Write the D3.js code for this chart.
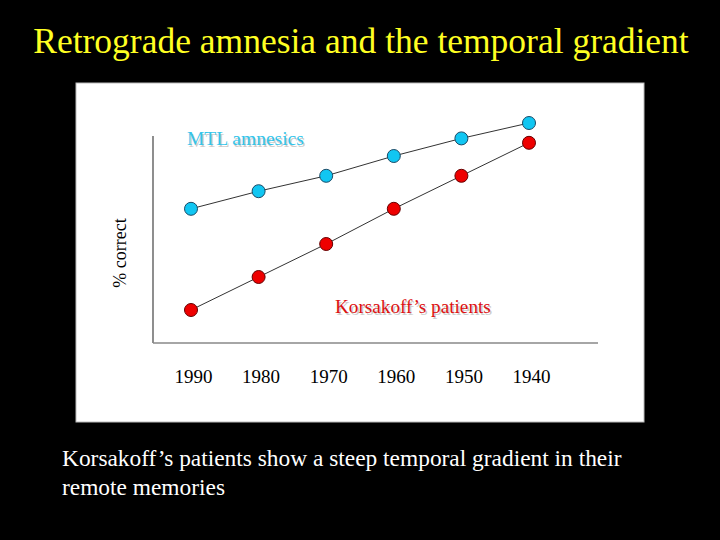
<!DOCTYPE html>
<html>
<head>
<meta charset="utf-8">
<script src="https://cdn.jsdelivr.net/npm/d3@7"></script>
<style>
  html, body { margin: 0; padding: 0; background: #000; }
  svg { display: block; }
</style>
</head>
<body>
<svg id="chart" width="720" height="540"></svg>
<script>
// ---- data ----
const decades = ["1990", "1980", "1970", "1960", "1950", "1940"];
const mtlValues = [61, 69, 76, 85, 93, 100];
const korsakoffValues = [15, 30, 45, 61, 76, 91];
const titleText = "Retrograde amnesia and the temporal gradient";
const captionLines = ["Korsakoff\u2019s patients show a steep temporal gradient in their", "remote memories"];
const yLabel = "% correct";
const mtlLabel = "MTL amnesics";
const korsLabel = "Korsakoff\u2019s patients";

const SERIF = "'Liberation Serif', 'Times New Roman', Times, 'DejaVu Serif', serif";

const svg = d3.select("#chart");

// background
svg.append("rect").attr("width", 720).attr("height", 540).attr("fill", "#000");

// title
svg.append("text")
  .attr("x", 361).attr("y", 52.5)
  .attr("text-anchor", "middle")
  .style("font-family", SERIF)
  .attr("fill", "#ffff22")
  .attr("font-size", 35.5)
  .text(titleText);

// white panel
svg.append("rect")
  .attr("x", 76).attr("y", 83).attr("width", 568).attr("height", 339)
  .attr("fill", "#ffffff").attr("stroke", "#bbbbbb").attr("stroke-width", 1);

// scales
const x = d3.scalePoint().domain(decades).range([191, 529]);
const y = d3.scaleLinear().domain([0, 100]).range([343, 123]);

// axes lines
svg.append("line").attr("x1", 153).attr("x2", 153).attr("y1", 136).attr("y2", 343)
  .attr("stroke", "#444").attr("stroke-width", 1.2);
svg.append("line").attr("x1", 153).attr("x2", 598).attr("y1", 343).attr("y2", 343)
  .attr("stroke", "#888").attr("stroke-width", 1.5);

// x tick labels via axis
const xAxis = d3.axisBottom(x).tickSize(0).tickPadding(0);
const gx = svg.append("g").attr("transform", "translate(2,381)").call(xAxis);
gx.select(".domain").remove();
gx.attr("font-family", null).attr("font-size", null);
gx.selectAll("text")
  .style("font-family", SERIF)
  .style("font-size", "19px")
  .attr("fill", "#000")
  .attr("dy", "0.1em");

// y label
svg.append("text")
  .attr("transform", "translate(126,253) rotate(-90)")
  .attr("text-anchor", "middle")
  .style("font-family", SERIF)
  .attr("font-size", 18)
  .attr("fill", "#000")
  .text(yLabel);

// lines
const line = d3.line().x((d, i) => x(decades[i])).y(d => y(d));
function drawSeries(values, fill, stroke) {
  svg.append("path").datum(values)
    .attr("d", line).attr("fill", "none")
    .attr("stroke", "#333").attr("stroke-width", 1);
  svg.selectAll(null).data(values).enter().append("circle")
    .attr("cx", (d, i) => x(decades[i]))
    .attr("cy", d => y(d))
    .attr("r", 6.5)
    .attr("fill", fill)
    .attr("stroke", stroke)
    .attr("stroke-width", 1);
}
drawSeries(mtlValues, "#11c6f2", "#1b4a66");
drawSeries(korsakoffValues, "#ee0000", "#660000");

// series labels with faint shadow
function label(txt, xx, yy, color, size) {
  svg.append("text").attr("x", xx + 1.5).attr("y", yy + 1.5)
    .style("font-family", SERIF)
    .attr("font-size", size).attr("fill", "#cccccc").text(txt);
  svg.append("text").attr("x", xx).attr("y", yy)
    .style("font-family", SERIF)
    .attr("font-size", size).attr("fill", color).text(txt);
}
label(mtlLabel, 187, 145, "#33c4ea", 19.5);
label(korsLabel, 335, 313, "#dd1111", 19.2);

// caption
svg.selectAll("text.caption").data(captionLines).enter().append("text")
  .attr("class", "caption")
  .attr("x", 62)
  .attr("y", (d, i) => 466 + i * 28.5)
  .style("font-family", SERIF)
  .attr("font-size", 23.4)
  .attr("fill", "#ffffff")
  .text(d => d);
</script>
</body>
</html>
